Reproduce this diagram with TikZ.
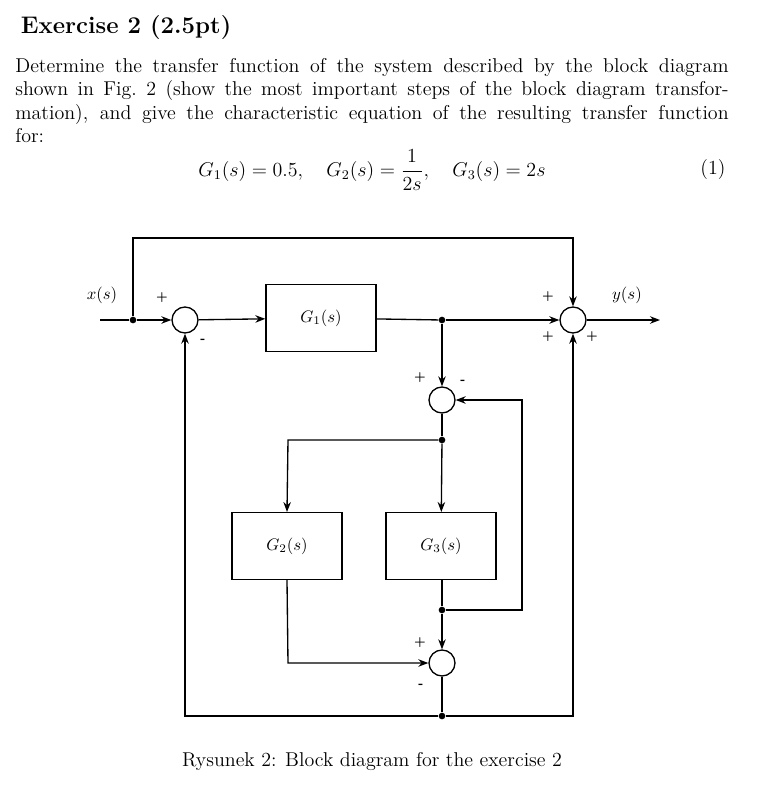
\documentclass[tikz,border=0pt]{standalone}
\usepackage{amsmath}
\usetikzlibrary{arrows.meta}
\begin{document}
\begin{tikzpicture}[x=0.6pt,y=-0.6pt,
  blk/.style={draw,line width=0.8pt,minimum width=66pt,minimum height=40pt,inner sep=0pt},
  sm/.style={draw,circle,line width=0.8pt,minimum size=15.6pt,inner sep=0pt},
  dot/.style={circle,fill,inner sep=0pt,minimum size=4pt},
  sg/.style={font=\scriptsize\bfseries,inner sep=0pt},
  ar/.style={-{Stealth[length=6pt,width=4.5pt]},line width=0.8pt},
  ln/.style={line width=0.8pt}]
\useasboundingbox (0,0) rectangle (766,794);
\node[anchor=west,font=\Large\bfseries] (title) at (15,28) {Exercise 2 (2.5pt)};
\node[anchor=north west,text width=428pt,align=justify,inner sep=0pt,font=\large] (par) at (15,58)
 {Determine the transfer function of the system described by the block diagram\linebreak shown in Fig.~2 (show the most important steps of the block diagram transfor-\linebreak mation), and give the characteristic equation of the resulting transfer function\linebreak for:};
\node[font=\large] (eq) at (372,170) {$G_1(s)=0.5,\quad G_2(s)=\dfrac{1}{2s},\quad G_3(s)=2s$};
\node[font=\large] (eqn) at (713,170) {(1)};
% diagram
\node[sm] (s1) at (185,320) {};
\node[blk] (g1) at (321,318) {$G_1(s)$};
\node[dot] (d1) at (442,320) {};
\node[sm] (so) at (573,320) {};
\node[sm] (s2) at (442,400) {};
\node[dot] (d2) at (442,440) {};
\node[blk] (g2) at (287,546) {$G_2(s)$};
\node[blk] (g3) at (441,546) {$G_3(s)$};
\node[dot] (d3) at (442,610) {};
\node[sm] (s3) at (442,663) {};
\node[dot] (d4) at (442,716) {};
\node[dot] (din) at (133,320) {};
\coordinate (xin) at (100,320);
\coordinate (yout) at (660,320);
\node (xl) at (102,295) {$x(s)$};
\node (yl) at (627,295) {$y(s)$};
\draw[ln] (xin) -- (din);
\draw[ar] (din) -- (s1);
\draw[ar] (din) -- (133,238) -- (573,238) -- (so);
\draw[ar] (s1) -- (g1);
\draw[ln] (g1) -- (d1);
\draw[ar] (d1) -- (so);
\draw[ar] (so) -- (yout);
\draw[ar] (d1) -- (s2);
\draw[ln] (s2) -- (d2);
\draw[ar] (d2) -- (g3);
\draw[ar] (d2) -- (288,440) -- (g2.north);
\draw[ln] (g3.south -| d3) -- (d3);
\draw[ar] (d3) -- (522,610) -- (522,400) -- (s2);
\draw[ar] (d3) -- (s3);
\draw[ar] (g2.south) -- (288,663) -- (s3);
\draw[ln] (s3) -- (d4);
\draw[ar] (d4) -- (185,716) -- (s1);
\draw[ar] (d4) -- (573,716) -- (so);
% signs
\node[sg] at (162,298) {+};
\node[sg] at (203,341) {-};
\node[sg] at (548,297) {+};
\node[sg] at (548,337) {+};
\node[sg] at (592,337) {+};
\node[sg] at (420,378) {+};
\node[sg] at (463,382) {-};
\node[sg] at (420,643) {+};
\node[sg] at (421,686) {-};
\node[font=\large] (cap) at (372,762) {Rysunek 2: Block diagram for the exercise 2};
\end{tikzpicture}
\end{document}
